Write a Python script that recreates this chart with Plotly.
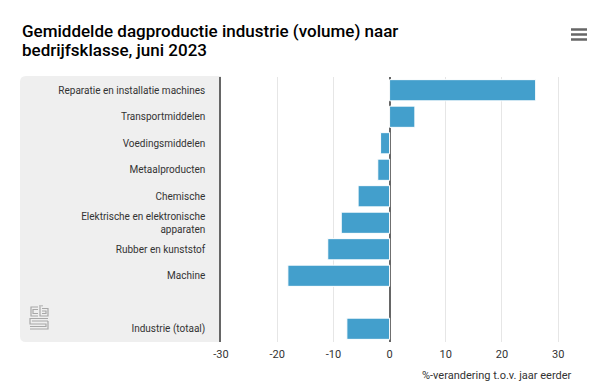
import plotly.graph_objects as go

# ---- data ----
categories = [
    "Reparatie en installatie machines",
    "Transportmiddelen",
    "Voedingsmiddelen",
    "Metaalproducten",
    "Chemische",
    "Elektrische en elektronische<br>apparaten",
    "Rubber en kunststof",
    "Machine",
    " ",
    "Industrie (totaal)",
]
values = [26.0, 4.5, -1.6, -2.1, -5.6, -8.6, -11.0, -18.1, None, -7.6]
x_ticks = [-30, -20, -10, 0, 10, 20, 30]

title_lines = ["Gemiddelde dagproductie industrie (volume) naar",
               "bedrijfsklasse, juni 2023"]
x_title = "%-verandering t.o.v. jaar eerder"

# ---- layout geometry ----
W, H = 600, 389
ML, MR, MT, MB = 221, 25, 77, 47
PW, PH = W - ML - MR, H - MT - MB


def px(x, y):
    return (x - ML) / PW, (H - MB - y) / PH


fig = go.Figure()
fig.add_trace(go.Bar(
    y=categories, x=values, orientation="h",
    marker=dict(color="#439fcc", line=dict(color="#ffffff", width=1)),
    width=0.8, hoverinfo="x+y",
))

shapes = []
# grey label panel with rounded left corners
x0, y0 = px(20, 76)
x1, y1 = px(221, 342)
rx, ry = 6 / PW, 6 / PH
panel = (f"M {x1},{y0} L {x0+rx},{y0} Q {x0},{y0} {x0},{y0-ry} "
         f"L {x0},{y1+ry} Q {x0},{y1} {x0+rx},{y1} L {x1},{y1} Z")
shapes.append(dict(type="path", xref="paper", yref="paper", path=panel,
                   fillcolor="#efefef", line=dict(width=0), layer="below"))

# hamburger menu icon
for yy in (29.5, 34.5, 39.5):
    a, b = px(571, yy)
    c, _ = px(587, yy)
    shapes.append(dict(type="line", xref="paper", yref="paper", x0=a, x1=c,
                       y0=b, y1=b, line=dict(color="#666666", width=2.5)))

# cbs logo (approximate strokes)
logo_paths = [
    [(38, 307), (31, 307), (31, 316), (38, 316)],
    [(38, 309.5), (33, 309.5), (33, 313.5), (38, 313.5)],
    [(40, 305), (40, 316), (48, 316), (48, 308.5), (42, 308.5)],
    [(42, 305), (42, 306.5)],
    [(42, 311), (46, 311), (46, 313.5), (42, 313.5)],
    [(48, 318.5), (30, 318.5), (30, 324), (46, 324), (46, 326.5), (30, 326.5)],
    [(48, 321), (32.5, 321), (32.5, 321.5)],
    [(48, 321), (48, 329), (30, 329)],
]
for pts in logo_paths:
    d = "M " + " L ".join(f"{px(x, y)[0]},{px(x, y)[1]}" for x, y in pts)
    shapes.append(dict(type="path", xref="paper", yref="paper", path=d,
                       line=dict(color="#a8a8a8", width=1.2)))

annotations = []
for i, t in enumerate(title_lines):
    ax, ay = px(20, 31.5 + 19 * i)
    annotations.append(dict(text=t, xref="paper", yref="paper", x=ax, y=ay,
                            xanchor="left", yanchor="middle", showarrow=False,
                            font=dict(family="Roboto", size=17, color="#000000",
                                      weight=500)))
tx, ty = px(574, 375)
annotations.append(dict(text=x_title, xref="paper", yref="paper", x=tx, y=ty,
                        xanchor="right", yanchor="middle", showarrow=False,
                        font=dict(family="Roboto", size=11, color="#333333")))

fig.update_layout(
    width=W, height=H,
    margin=dict(l=ML, r=MR, t=MT, b=MB),
    paper_bgcolor="white", plot_bgcolor="white",
    showlegend=False, bargap=0.2,
    shapes=shapes, annotations=annotations,
    font=dict(family="Roboto", color="#333333"),
)
fig.update_xaxes(range=[-30, 33], tickvals=x_ticks, ticktext=[str(v) for v in x_ticks],
                 showgrid=True, gridcolor="#e6e6e6", gridwidth=1,
                 zeroline=True, zerolinecolor="#666666", zerolinewidth=2,
                 showline=False, ticks="", ticklabelstandoff=4,
                 tickfont=dict(size=11, color="#333333"), fixedrange=True)
fig.update_yaxes(autorange="reversed", showgrid=False, showline=True,
                 linecolor="#666666", linewidth=1.5, ticks="",
                 ticklabelstandoff=12, tickfont=dict(size=10, color="#333333"),
                 fixedrange=True)

fig.write_html("out.html", config={"displayModeBar": False},
               post_script="document.body.style.margin='0';document.body.style.overflow='hidden';")
